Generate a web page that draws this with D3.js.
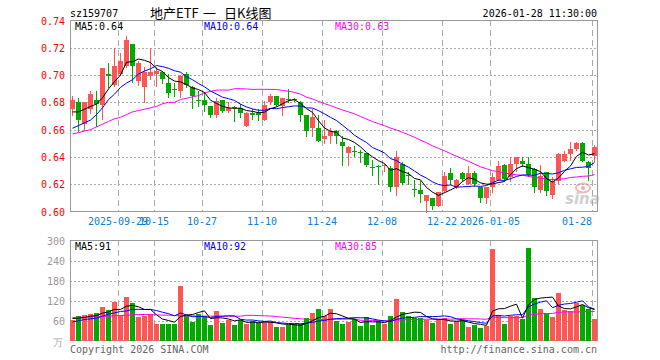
<!DOCTYPE html>
<html><head><meta charset="utf-8">
<script src="https://cdn.jsdelivr.net/npm/d3@7"></script>
<style>
body{margin:0;background:#fff}
svg{display:block}
text{font-family:"DejaVu Sans Mono",monospace;font-size:10px}
</style>
</head><body>
<svg id="c" width="660" height="360"></svg>
<script>
const dates = [
"2025-09-17","2025-09-18","2025-09-19","2025-09-22","2025-09-23","2025-09-24","2025-09-25","2025-09-26","2025-09-29","2025-09-30",
"2025-10-09","2025-10-10","2025-10-13","2025-10-14","2025-10-15","2025-10-16","2025-10-17","2025-10-20","2025-10-21","2025-10-22",
"2025-10-23","2025-10-24","2025-10-27","2025-10-28","2025-10-29","2025-10-30","2025-10-31","2025-11-03","2025-11-04","2025-11-05",
"2025-11-06","2025-11-07","2025-11-10","2025-11-11","2025-11-12","2025-11-13","2025-11-14","2025-11-17","2025-11-18","2025-11-19",
"2025-11-20","2025-11-21","2025-11-24","2025-11-25","2025-11-26","2025-11-27","2025-11-28","2025-12-01","2025-12-02","2025-12-03",
"2025-12-04","2025-12-05","2025-12-08","2025-12-09","2025-12-10","2025-12-11","2025-12-12","2025-12-15","2025-12-16","2025-12-17",
"2025-12-18","2025-12-19","2025-12-22","2025-12-23","2025-12-24","2025-12-25","2025-12-26","2025-12-29","2025-12-30","2025-12-31",
"2026-01-05","2026-01-06","2026-01-07","2026-01-08","2026-01-09","2026-01-12","2026-01-13","2026-01-14","2026-01-15","2026-01-16",
"2026-01-19","2026-01-20","2026-01-21","2026-01-22","2026-01-23","2026-01-26","2026-01-27","2026-01-28"];

const open = [0.675,0.680,0.664,0.675,0.682,0.678,0.701,0.693,0.701,0.707,
0.723,0.696,0.691,0.699,0.701,0.702,0.694,0.690,0.688,0.701,
0.691,0.682,0.682,0.677,0.671,0.682,0.674,0.6765,0.676,0.663,
0.672,0.672,0.667,0.680,0.685,0.677,0.6825,0.6825,0.680,0.671,
0.661,0.661,0.653,0.655,0.659,0.651,0.643,0.6445,0.6435,0.643,
0.6325,0.6335,0.633,0.632,0.618,0.635,0.6265,0.6165,0.616,0.608,
0.610,0.604,0.615,0.628,0.618,0.628,0.620,0.628,0.618,0.610,
0.618,0.623,0.634,0.625,0.635,0.637,0.635,0.631,0.616,0.629,
0.612,0.622,0.637,0.642,0.646,0.650,0.636,0.641];
const high = [0.685,0.683,0.680,0.688,0.688,0.705,0.709,0.720,0.716,0.729,
0.723,0.710,0.706,0.720,0.706,0.703,0.701,0.694,0.700,0.702,
0.692,0.688,0.687,0.677,0.683,0.682,0.680,0.677,0.679,0.673,
0.675,0.675,0.681,0.686,0.685,0.683,0.690,0.683,0.681,0.671,
0.675,0.671,0.667,0.661,0.660,0.655,0.648,0.648,0.645,0.643,
0.638,0.634,0.635,0.633,0.644,0.636,0.629,0.623,0.622,0.612,
0.610,0.614,0.629,0.632,0.624,0.629,0.633,0.630,0.618,0.618,
0.628,0.637,0.635,0.640,0.640,0.640,0.640,0.632,0.634,0.629,
0.625,0.643,0.644,0.651,0.651,0.651,0.637,0.649];
const low = [0.671,0.659,0.660,0.672,0.663,0.668,0.691,0.692,0.700,0.706,
0.695,0.693,0.680,0.697,0.692,0.694,0.684,0.685,0.684,0.691,
0.676,0.677,0.674,0.669,0.669,0.673,0.673,0.666,0.669,0.663,
0.668,0.667,0.667,0.679,0.677,0.671,0.680,0.681,0.666,0.655,
0.655,0.652,0.650,0.650,0.650,0.634,0.634,0.641,0.636,0.633,
0.627,0.620,0.630,0.615,0.612,0.620,0.620,0.611,0.607,0.600,
0.602,0.604,0.614,0.620,0.617,0.622,0.620,0.619,0.607,0.606,
0.614,0.623,0.623,0.622,0.630,0.633,0.626,0.614,0.614,0.612,
0.610,0.621,0.637,0.638,0.645,0.637,0.623,0.637];
const close = [0.682,0.667,0.680,0.686,0.679,0.705,0.699,0.707,0.710,0.726,
0.707,0.709,0.702,0.702,0.703,0.697,0.687,0.689,0.699,0.693,
0.685,0.681,0.678,0.671,0.681,0.674,0.676,0.676,0.672,0.672,
0.671,0.671,0.678,0.685,0.678,0.683,0.682,0.682,0.671,0.659,
0.669,0.652,0.655,0.659,0.655,0.648,0.647,0.644,0.643,0.634,
0.632,0.633,0.634,0.618,0.640,0.621,0.626,0.616,0.613,0.612,
0.604,0.614,0.626,0.623,0.623,0.624,0.628,0.620,0.610,0.618,
0.625,0.633,0.624,0.635,0.640,0.635,0.627,0.618,0.626,0.615,
0.622,0.642,0.642,0.646,0.650,0.637,0.632,0.647];
const volume = [63,73,76,79,82,100,91,115,78,130,
112,71,74,79,49,49,49,49,163,73,
56,79,73,46,88,52,63,46,61,49,
58,53,57,57,40,40,48,51,49,67,
82,94,73,94,58,49,56,64,43,70,
46,58,51,73,124,86,73,69,69,63,
52,63,67,49,58,61,40,46,37,43,
274,76,49,73,73,64,278,127,94,82,
70,143,91,88,112,106,94,64];

// moving-average values for days whose window starts before the first shown day
const ma5Head = [0.673,0.673,0.675,0.677];
const ma10Head = [0.661,0.663,0.665,0.667,0.671,0.676,0.682,0.686,0.691];
const ma30Head = [0.6568,0.6578,0.659,0.660,0.662,0.664,0.666,0.668,0.669,0.671,0.673,0.674,0.675,0.676,0.677,0.679,0.680,0.680,0.682,0.683,0.684,0.685,0.687,0.688,0.689,0.689,0.689,0.690,0.690];
const vma5Head = [66,67,69,73];
const vma10Head = [56,59,63,65,67,73,79,83,87];
const vma30Head = [69,70,70,71,72,72,73,74,75,76,77,78,78,77,77,76,76,75,74,74,74,73,73,73,73,73,73,73,73];

const priceTicks = [0.60,0.62,0.64,0.66,0.68,0.70,0.72,0.74];
const volTicks = [60,120,180,240,300];
const dateTicks = ["2025-09-29","2025-10-15","2025-10-27","2025-11-10","2025-11-24","2025-12-08","2025-12-22","2026-01-05","2026-01-28"];
const dateTickLabels = ["2025-09-29","10-15","10-27","11-10","11-24","12-08","12-22","2026-01-05","01-28"];
const priceLegend = ["MA5:0.64","MA10:0.64","MA30:0.63"];
const volLegend = ["MA5:91","MA10:92","MA30:85"];
const symbol = "sz159707", titleParts = ["地产ETF","一","日K线图"], stamp = "2026-01-28 11:30:00";

function movingAvg(vals, n, head){
  return vals.map((v,i)=> i < n-1 ? head[i] : d3.mean(vals.slice(i-n+1,i+1)));
}

const svg = d3.select("#c");
const L = 70, R = 597;
const x = d3.scaleBand().domain(dates).range([69.5,597.5]).paddingInner(1/6).paddingOuter(1/12);
const y = d3.scaleLinear().domain([0.60,0.74]).range([211.5,20.5]);
const yv = d3.scaleLinear().domain([0,300]).range([340.5,240.5]);
const RED = "#ff5555", GREEN = "#00aa00", GRID = "#aaa";
const colorOf = i => close[i] < open[i] ? GREEN : RED;

// titles
svg.append("text").attr("x",70).attr("y",17).attr("fill","#000").text(symbol);
const titleX = [150,203,224];
titleParts.forEach((t,i)=>svg.append("text").attr("x",titleX[i]).attr("y",18).attr("fill","#000")
  .style("font-family",'"Noto Sans CJK SC",sans-serif').style("font-size","13px").text(t));
svg.append("text").attr("x",597).attr("y",17).attr("text-anchor","end").attr("fill","#000").text(stamp);

function panel(y0,y1,scale,ticks,fmt,labColor,dotTicks){
  const g = svg.append("g").attr("shape-rendering","crispEdges");
  g.selectAll(".hg").data(dotTicks).join("line")
    .attr("x1",L).attr("x2",R).attr("y1",d=>Math.round(scale(d))+0.5).attr("y2",d=>Math.round(scale(d))+0.5)
    .attr("stroke",GRID).attr("stroke-dasharray","2,2");
  g.selectAll(".vg").data(dateTicks).join("line")
    .attr("x1",d=>x(d)+0.5).attr("x2",d=>x(d)+0.5).attr("y1",y0).attr("y2",y1)
    .attr("stroke",GRID).attr("stroke-dasharray","6,4");
  g.append("rect").attr("x",L+0.5).attr("y",y0+0.5).attr("width",R-L).attr("height",y1-y0)
    .attr("fill","none").attr("stroke","#999");
  svg.selectAll(null).data(ticks).join("text")
    .attr("x",65).attr("y",d=>scale(d)+4).attr("text-anchor","end").attr("fill",labColor).text(fmt);
}
panel(20,211,y,priceTicks,d=>d.toFixed(2),"#f00",priceTicks.slice(1,-1));
panel(240,340,yv,volTicks,d=>d,"#999",volTicks.slice(0,-1));

// x labels
svg.selectAll(".xl").data(dateTicks).join("text")
  .attr("y",225).attr("fill","#0a80d8")
  .attr("x",(d,i)=>{const w=dateTickLabels[i].length*6.02; let c=x(d); if(c+w/2>592) c=592-w/2; return c;})
  .attr("text-anchor","middle").text((d,i)=>dateTickLabels[i]);

// watermark
const wm = svg.append("g").attr("opacity",0.55);
wm.append("ellipse").attr("cx",583).attr("cy",188).attr("rx",7).attr("ry",4.5).attr("fill","none").attr("stroke","#e08080").attr("stroke-width",2);
wm.append("circle").attr("cx",583).attr("cy",188).attr("r",2).attr("fill","#d07070");
wm.append("text").attr("x",565).attr("y",204).attr("fill","#aaa")
  .style("font-family","Verdana,'DejaVu Sans',sans-serif").style("font-size","15px").style("font-style","italic").style("font-weight","bold").text("sina");

// candles
const cg = svg.append("g").attr("shape-rendering","crispEdges");
dates.forEach((d,i)=>{
  const xc = x(d) + 2.5, col = colorOf(i);
  cg.append("line").attr("x1",xc).attr("x2",xc).attr("y1",Math.round(y(high[i]))).attr("y2",Math.round(y(low[i]))+1).attr("stroke",col);
  const t = Math.round(y(Math.max(open[i],close[i]))), b = Math.round(y(Math.min(open[i],close[i])));
  cg.append("rect").attr("x",x(d)).attr("y",t).attr("width",x.bandwidth()).attr("height",Math.max(1,b-t)).attr("fill",col);
});

// volume bars
svg.append("g").attr("shape-rendering","crispEdges").selectAll("rect").data(dates).join("rect")
  .attr("x",d=>x(d)).attr("width",x.bandwidth())
  .attr("y",(d,i)=>Math.round(yv(volume[i]))).attr("height",(d,i)=>Math.round(yv(0))-Math.round(yv(volume[i])))
  .attr("fill",(d,i)=>colorOf(i));

// MA lines
function maLine(vals, scale, color){
  const line = d3.line().x((v,i)=>x(dates[i])+2.5).y(v=>scale(v));
  svg.append("path").attr("d",line(vals)).attr("fill","none").attr("stroke",color).attr("stroke-width",1);
}
maLine(movingAvg(close,30,ma30Head), y, "#ff00ff");
maLine(movingAvg(close,10,ma10Head), y, "#0000ff");
maLine(movingAvg(close,5,ma5Head), y, "#000");
maLine(movingAvg(volume,30,vma30Head), yv, "#ff00ff");
maLine(movingAvg(volume,10,vma10Head), yv, "#0000ff");
maLine(movingAvg(volume,5,vma5Head), yv, "#000");

// legends
const legX = [75,204,335], legC = ["#000","#0000ff","#ff00ff"];
priceLegend.forEach((t,i)=>svg.append("text").attr("x",legX[i]).attr("y",30).attr("fill",legC[i]).text(t));
volLegend.forEach((t,i)=>svg.append("text").attr("x",legX[i]).attr("y",250).attr("fill",legC[i]).text(t));

// footer
svg.append("text").attr("x",63).attr("y",346).attr("text-anchor","end").attr("fill","#aaa").text("万");
svg.append("text").attr("x",70).attr("y",353).attr("fill","#666").text("Copyright 2026 SINA.COM");
svg.append("text").attr("x",597).attr("y",353).attr("text-anchor","end").attr("fill","#666").text("http://finance.sina.com.cn");
</script>
</body></html>
